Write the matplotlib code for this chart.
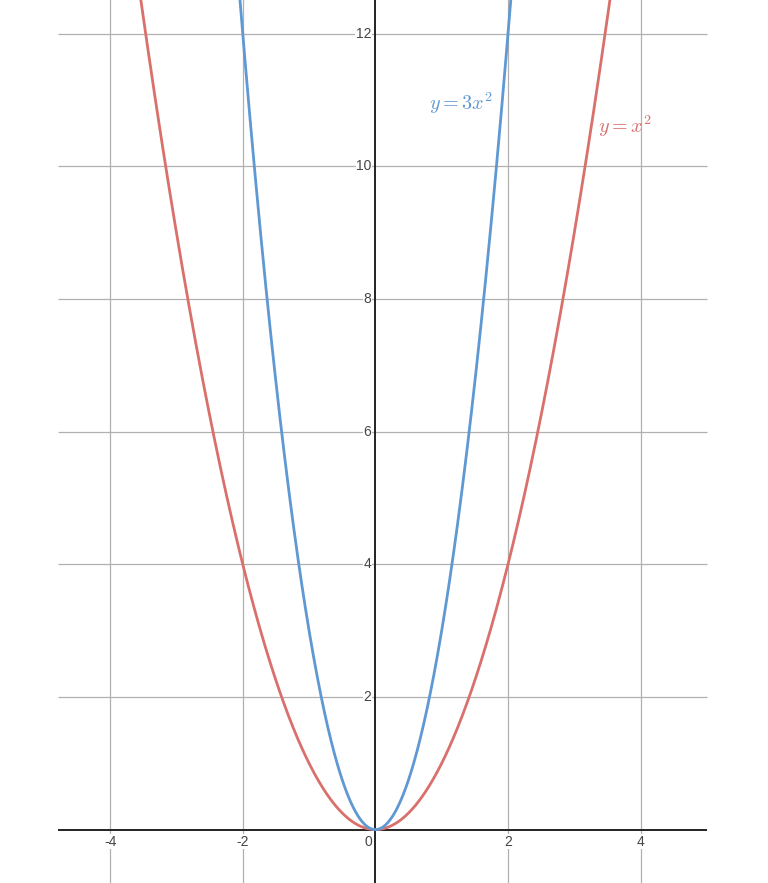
import numpy as np
import matplotlib
matplotlib.use("Agg")
import matplotlib.pyplot as plt

# Data
coefficients = [1, 3]
curve_labels = [r"$y=x^2$", r"$y=3x^2$"]
curve_colors = ["#d9706c", "#5f98d2"]
label_pos = [(3.35, 10.6), (0.81, 10.95)]
x_ticks = [-4, -2, 2, 4]
y_ticks = [2, 4, 6, 8, 10, 12]
x_samples = np.linspace(-4.0, 4.0, 801)

plt.rcParams["mathtext.fontset"] = "cm"

fig = plt.figure(figsize=(7.68, 8.83), dpi=100)
ax = fig.add_axes([0, 0, 1, 1])
ax.set_xlim(-5.66, 5.92)
ax.set_ylim(-0.805, 12.505)
ax.axis("off")

grid_x0, grid_x1 = -4.79, 5.0
grid_c = "#b0b0b0"
# vertical grid lines
for xt in x_ticks:
    ax.axvline(xt, color=grid_c, lw=0.9, zorder=1)
# horizontal grid lines
ax.hlines(y_ticks, grid_x0, grid_x1, color=grid_c, lw=0.9, zorder=1)

# axes
ax.hlines(0, grid_x0, grid_x1, color="#222222", lw=1.4, zorder=2)
ax.axvline(0, color="#222222", lw=1.4, zorder=2)

# curves
for a, lab, col, pos in zip(coefficients, curve_labels, curve_colors, label_pos):
    ax.plot(x_samples, a * x_samples ** 2, color=col, lw=2.0, zorder=4,
            solid_capstyle="round")
    ax.text(pos[0], pos[1], lab, color=col, fontsize=14.5,
            ha="left", va="center", zorder=5)

# tick labels
tick_font = dict(fontsize=10, color="#444444", family="Liberation Sans")
bbox = dict(facecolor="white", edgecolor="none", pad=0.3)
for xt in x_ticks:
    ax.text(xt, -0.08, f"{xt}", ha="center", va="top", bbox=bbox,
            zorder=3, **tick_font)
ax.text(-0.05, -0.08, "0", ha="right", va="top", bbox=bbox, zorder=3,
        **tick_font)
for yt in y_ticks:
    ax.text(-0.06, yt, f"{yt}", ha="right", va="center", bbox=bbox,
            zorder=3, **tick_font)

fig.savefig("out.png", dpi=100, facecolor="white")
